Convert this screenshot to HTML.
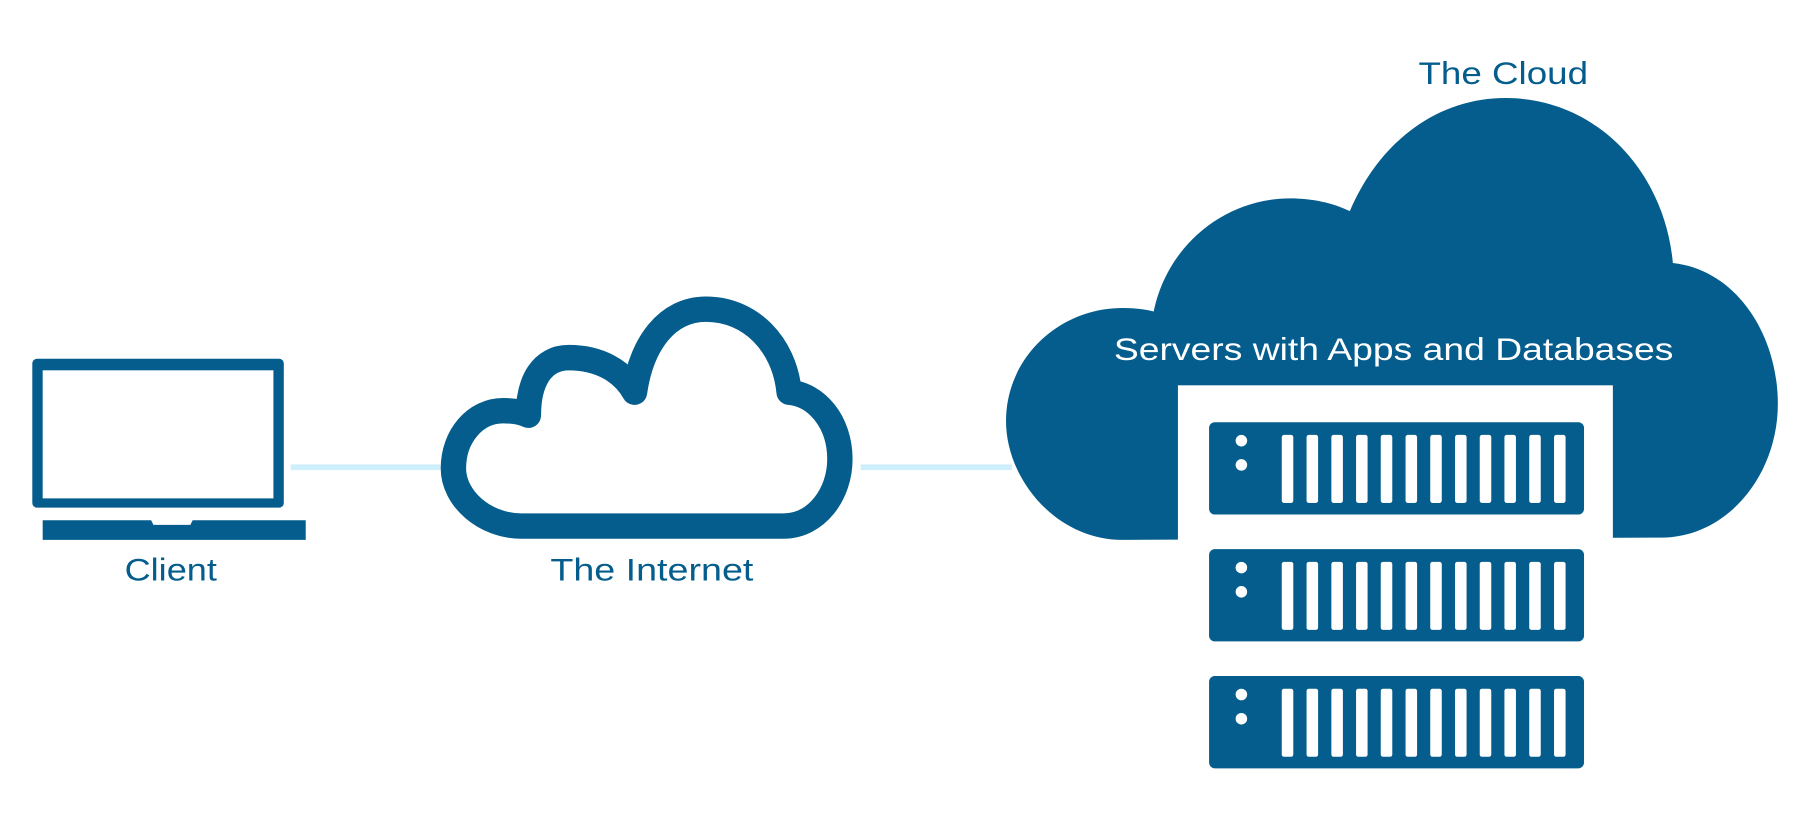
<!DOCTYPE html>
<html><head><meta charset="utf-8"><style>html,body{margin:0;padding:0;background:#fff;}svg{display:block}</style></head>
<body>
<svg width="1809" height="826" viewBox="0 0 1568 716" xmlns="http://www.w3.org/2000/svg" preserveAspectRatio="none">
<g font-family="Liberation Sans, sans-serif">
<line x1="252" y1="405" x2="382" y2="405" stroke="#cdeefb" stroke-width="5"/>
<line x1="746" y1="405" x2="877" y2="405" stroke="#cdeefb" stroke-width="5"/>
<rect x="28" y="311" width="218" height="129" rx="4" fill="#045d8c"/>
<rect x="37" y="321" width="200" height="111" fill="#fff"/>
<path d="M37,451 L131,451 L133,455 L165,455 L167,451 L265,451 L265,468 L37,468 Z" fill="#045d8c"/>
<text x="148" y="503" font-size="27" fill="#045d8c" text-anchor="middle" textLength="80" lengthAdjust="spacingAndGlyphs">Client</text>
<path d="M452,456 L679,456 C708,456 728,428 728,398 C728,366 708,342 684,340 C680,298 650,268 612,268 C578,268 556,298 550,340 C540,322 520,310 493,310 C470,310 458,330 458,360 C452,357 445,356 436,356 C412,356 393,378 393,406 C393,432 420,456 452,456 Z" fill="none" stroke="#045d8c" stroke-width="22" stroke-linejoin="round"/>
<text x="565" y="503" font-size="27" fill="#045d8c" text-anchor="middle" textLength="176" lengthAdjust="spacingAndGlyphs">The Internet</text>
<path d="M973,468 C915,468 872,415 872,365 C872,310 918,267 973,267 C983,267 992,268 1000,270 C1012,212 1062,172 1118,172 C1138,172 1155,176 1170,183 C1198,118 1250,85 1305,85 C1385,85 1443,150 1450,228 C1505,234 1541,290 1541,350 C1541,412 1497,466 1440,466 Z" fill="#045d8c"/>
<rect x="1021" y="334" width="377" height="150" fill="#fff"/>
<text x="1303" y="73" font-size="27" fill="#045d8c" text-anchor="middle" textLength="147" lengthAdjust="spacingAndGlyphs">The Cloud</text>
<text x="1208" y="312" font-size="27" fill="#fff" text-anchor="middle" textLength="485" lengthAdjust="spacingAndGlyphs">Servers with Apps and Databases</text>
<g id="srv">
<rect x="1048" y="366" width="325" height="80" rx="5" fill="#045d8c"/>
<circle cx="1076" cy="382" r="5" fill="#fff"/>
<circle cx="1076" cy="403" r="5" fill="#fff"/>
<g fill="#fff">
<rect x="1111" y="377" width="10" height="59" rx="2"/>
<rect x="1132.5" y="377" width="10" height="59" rx="2"/>
<rect x="1154" y="377" width="10" height="59" rx="2"/>
<rect x="1175.4" y="377" width="10" height="59" rx="2"/>
<rect x="1196.8" y="377" width="10" height="59" rx="2"/>
<rect x="1218.3" y="377" width="10" height="59" rx="2"/>
<rect x="1239.7" y="377" width="10" height="59" rx="2"/>
<rect x="1261.2" y="377" width="10" height="59" rx="2"/>
<rect x="1282.6" y="377" width="10" height="59" rx="2"/>
<rect x="1304" y="377" width="10" height="59" rx="2"/>
<rect x="1325.5" y="377" width="10" height="59" rx="2"/>
<rect x="1347" y="377" width="10" height="59" rx="2"/>
</g>
</g>
<use href="#srv" y="110"/>
<use href="#srv" y="220"/>
</g>
</svg>
</body></html>
